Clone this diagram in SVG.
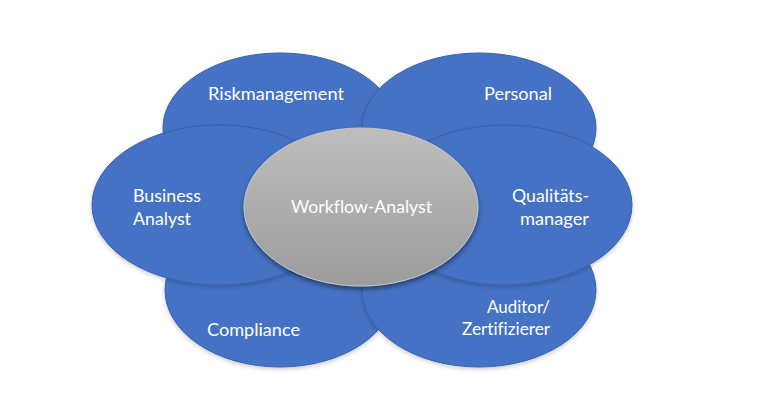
<svg xmlns="http://www.w3.org/2000/svg" width="768" height="419" viewBox="0 0 768 419">
  <defs>
    <linearGradient id="grayGrad" x1="0" y1="0" x2="0" y2="1">
      <stop offset="0" stop-color="#BEBEBE"/>
      <stop offset="1" stop-color="#9C9C9C"/>
    </linearGradient>
    <filter id="shadow" x="-20%" y="-20%" width="140%" height="150%">
      <feGaussianBlur in="SourceAlpha" stdDeviation="2.5"/>
      <feOffset dx="0" dy="2.5" result="b"/>
      <feComponentTransfer><feFuncA type="linear" slope="0.45"/></feComponentTransfer>
      <feMerge><feMergeNode/><feMergeNode in="SourceGraphic"/></feMerge>
    </filter>
    <filter id="soft" x="-20%" y="-20%" width="140%" height="150%">
      <feGaussianBlur in="SourceAlpha" stdDeviation="2"/>
      <feOffset dx="0" dy="2" result="b"/>
      <feComponentTransfer><feFuncA type="linear" slope="0.2"/></feComponentTransfer>
      <feMerge><feMergeNode/><feMergeNode in="SourceGraphic"/></feMerge>
    </filter>
  </defs>
  <style>
    .blue { fill: #4472C4; stroke: #3761AB; stroke-width: 1; filter: url(#soft); }
    .gray { fill: url(#grayGrad); stroke: #C6C6C6; stroke-width: 1; filter: url(#shadow); }
    .lbl { font-family: Lato, "Open Sans", "Liberation Sans", sans-serif; font-size: 18px; fill: #FFFFFF; font-variant-ligatures: none; }
  </style>
  <rect width="768" height="419" fill="#FFFFFF"/>

  <g id="riskmanagement">
    <ellipse class="blue" cx="280" cy="128" rx="117" ry="75"/>
    <text class="lbl" x="208" y="100" textLength="136" lengthAdjust="spacingAndGlyphs">Riskmanagement</text>
  </g>
  <g id="personal">
    <ellipse class="blue" cx="479" cy="128" rx="117" ry="75"/>
    <text class="lbl" x="484" y="100" textLength="68" lengthAdjust="spacingAndGlyphs">Personal</text>
  </g>
  <g id="compliance">
    <ellipse class="blue" cx="280" cy="290" rx="115" ry="77"/>
    <text class="lbl" x="207" y="336" textLength="93" lengthAdjust="spacingAndGlyphs">Compliance</text>
  </g>
  <g id="auditor">
    <ellipse class="blue" cx="479" cy="290" rx="117" ry="77"/>
    <text class="lbl" x="487" y="313" textLength="63" lengthAdjust="spacingAndGlyphs">Auditor/</text>
    <text class="lbl" x="462" y="335" textLength="88" lengthAdjust="spacingAndGlyphs">Zertifizierer</text>
  </g>
  <g id="business-analyst">
    <ellipse class="blue" cx="219" cy="205" rx="127" ry="80"/>
    <text class="lbl" x="133" y="202" textLength="68" lengthAdjust="spacingAndGlyphs">Business</text>
    <text class="lbl" x="133" y="225" textLength="58" lengthAdjust="spacingAndGlyphs">Analyst</text>
  </g>
  <g id="qualitaetsmanager">
    <ellipse class="blue" cx="505" cy="205" rx="127" ry="80"/>
    <text class="lbl" x="512" y="202" textLength="77" lengthAdjust="spacingAndGlyphs">Qualitäts-</text>
    <text class="lbl" x="520" y="225" textLength="69" lengthAdjust="spacingAndGlyphs">manager</text>
  </g>
  <g id="workflow-analyst">
    <ellipse class="gray" cx="361" cy="207" rx="117" ry="79"/>
    <text class="lbl" x="291" y="213" textLength="141" lengthAdjust="spacingAndGlyphs">Workflow-Analyst</text>
  </g>
  <g id="connectors"/>
</svg>
